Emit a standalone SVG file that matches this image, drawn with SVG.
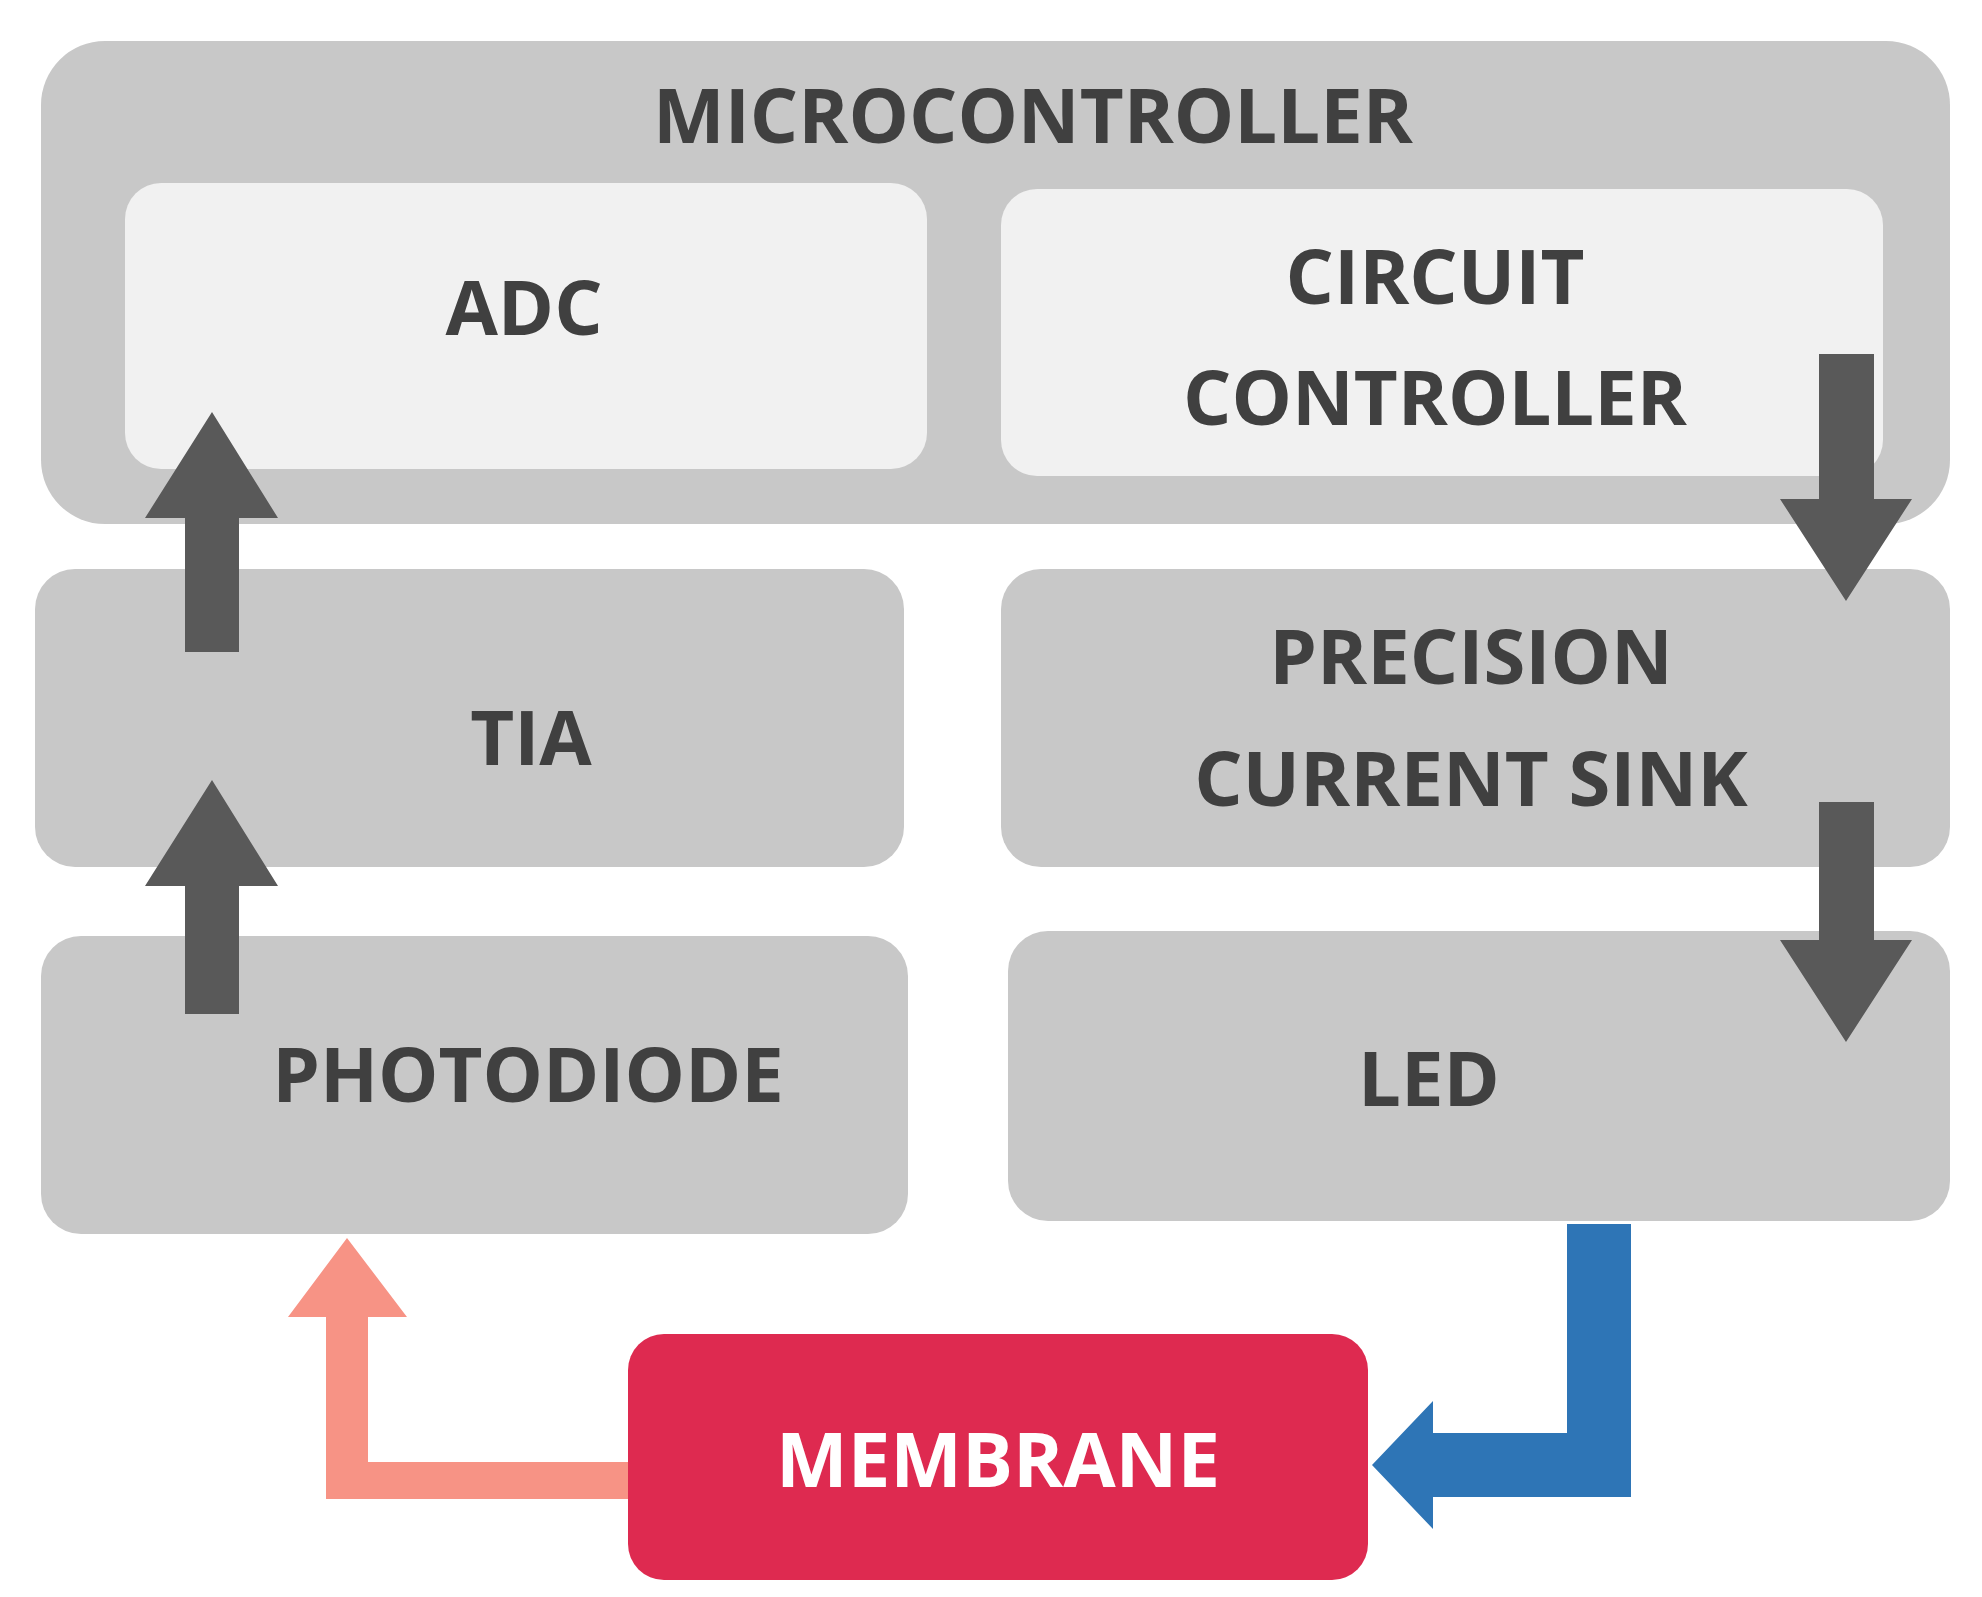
<svg xmlns="http://www.w3.org/2000/svg" width="1982" height="1597" viewBox="0 0 1982 1597">
<style>
.g{fill:#C8C8C8}
.l{fill:#F1F1F1}
.t{font-family:"Open Sans","Liberation Sans",sans-serif;font-weight:bold;font-size:76px;fill:#404040;text-anchor:middle}
.a{fill:#595959}
</style>
<rect width="1982" height="1597" fill="#fff"/>
<g id="microcontroller"><rect class="g" x="41" y="41" width="1909" height="483" rx="64"/><text class="t" x="1033" y="143">MICROCONTROLLER</text></g>
<g id="adc"><rect class="l" x="125" y="183" width="802" height="286" rx="36"/><text class="t" x="524" y="335">ADC</text></g>
<g id="circuit"><rect class="l" x="1001" y="189" width="882" height="287" rx="36"/><text class="t" x="1435" y="304">CIRCUIT</text><text class="t" x="1435" y="425">CONTROLLER</text></g>
<g id="tia"><rect class="g" x="35" y="569" width="869" height="298" rx="40"/><text class="t" x="531" y="765">TIA</text></g>
<g id="sink"><rect class="g" x="1001" y="569" width="949" height="298" rx="40"/><text class="t" x="1471" y="684">PRECISION</text><text class="t" x="1471" y="806">CURRENT SINK</text></g>
<g id="photodiode"><rect class="g" x="41" y="936" width="867" height="298" rx="40"/><text class="t" x="528" y="1102">PHOTODIODE</text></g>
<g id="led"><rect class="g" x="1008" y="931" width="942" height="290" rx="40"/><text class="t" x="1429" y="1106">LED</text></g>
<g id="membrane"><rect fill="#DE2A50" x="628" y="1334" width="740" height="246" rx="36"/><text class="t" style="fill:#fff" x="998" y="1487">MEMBRANE</text></g>
<g id="connectors">
<polygon class="a" points="185,652 239,652 239,518 278,518 212,412 145,518 185,518"/>
<polygon class="a" points="185,1014 239,1014 239,886 278,886 212,780 145,886 185,886"/>
<polygon class="a" points="1819,354 1874,354 1874,499 1912,499 1846,601 1780,499 1819,499"/>
<polygon class="a" points="1819,802 1874,802 1874,940 1912,940 1846,1042 1780,940 1819,940"/>
<polygon fill="#2E75B6" points="1567,1224 1631,1224 1631,1497 1433,1497 1433,1529 1372,1465 1433,1401 1433,1433 1567,1433"/>
<polygon fill="#F79385" points="628,1462 628,1499 326,1499 326,1317 288,1317 347,1238 407,1317 368,1317 368,1462"/>
</g>
</svg>
